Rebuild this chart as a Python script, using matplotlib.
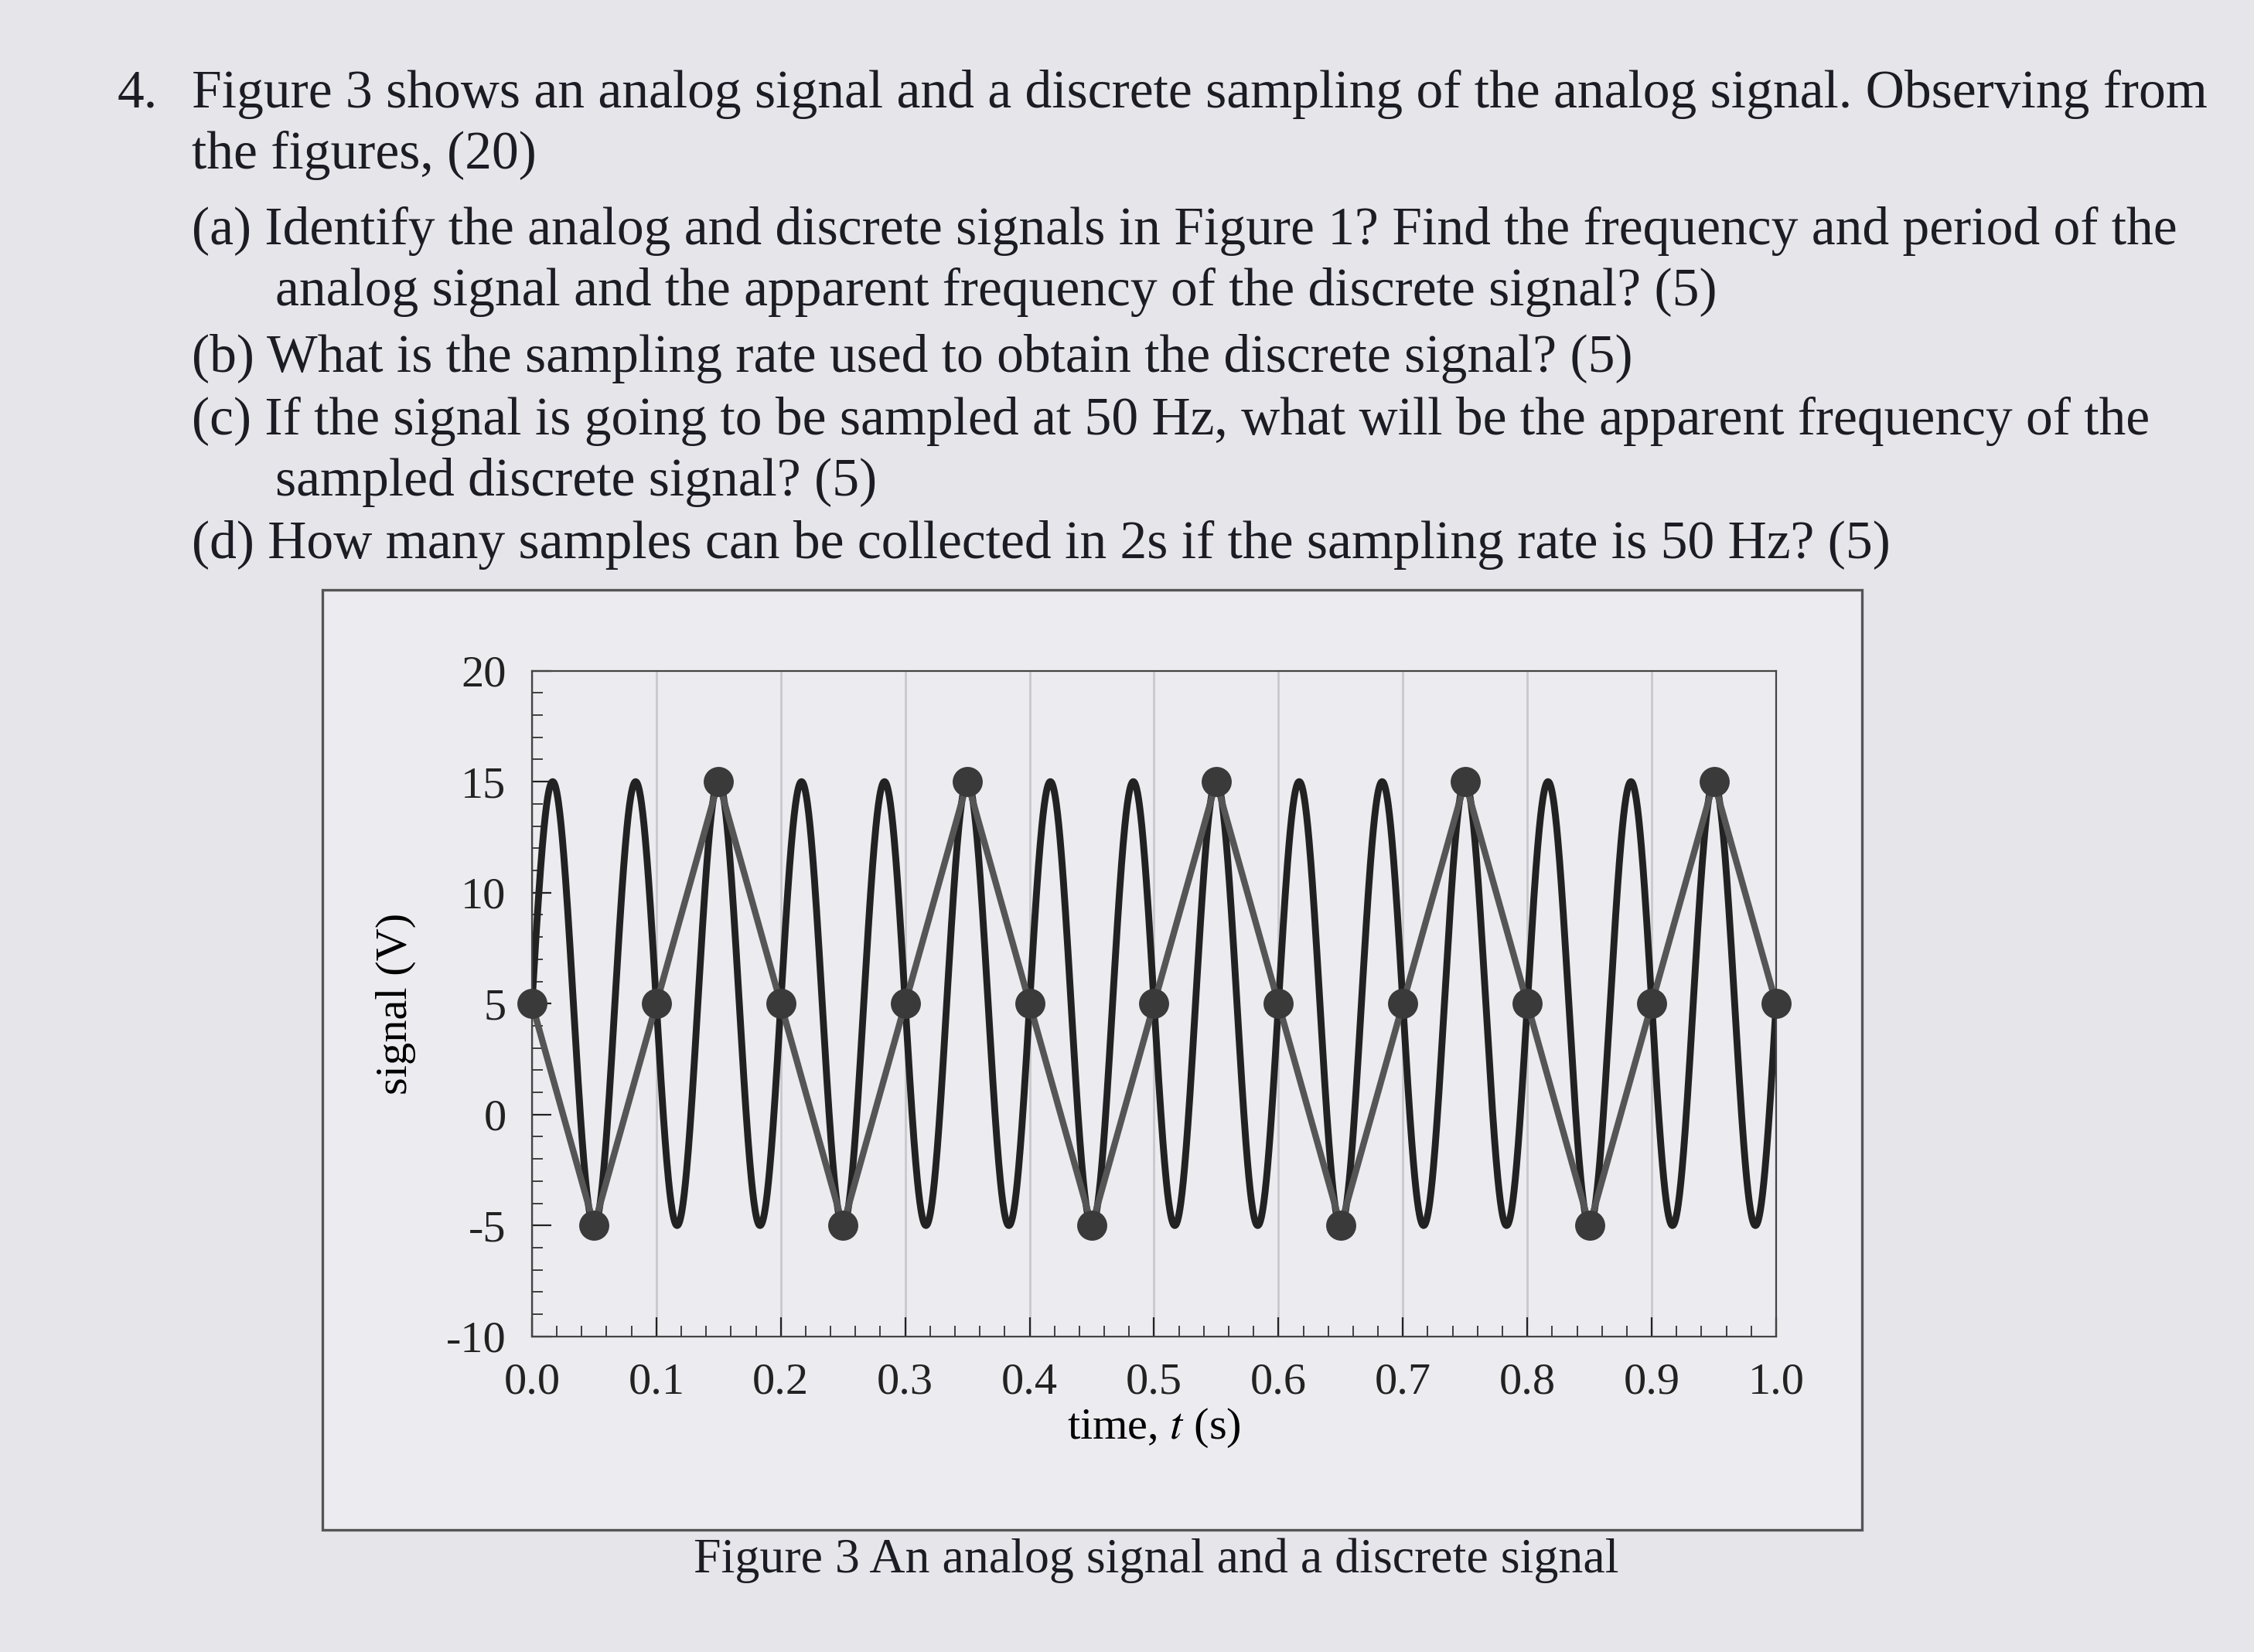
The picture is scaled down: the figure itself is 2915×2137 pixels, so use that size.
import numpy as np
import matplotlib.pyplot as plt
from matplotlib.patches import Rectangle

# analog: 5 + 10 sin(2*pi*15 t), sampled at 20 Hz
analog_freq = 15.0
offset = 5.0
amp = 10.0
sample_t = [0.00, 0.05, 0.10, 0.15, 0.20, 0.25, 0.30, 0.35, 0.40, 0.45, 0.50,
            0.55, 0.60, 0.65, 0.70, 0.75, 0.80, 0.85, 0.90, 0.95, 1.00]
sample_v = [5, -5, 5, 15, 5, -5, 5, 15, 5, -5, 5,
            15, 5, -5, 5, 15, 5, -5, 5, 15, 5]
x_ticks = [0.0, 0.1, 0.2, 0.3, 0.4, 0.5, 0.6, 0.7, 0.8, 0.9, 1.0]
y_ticks = [-10, -5, 0, 5, 10, 15, 20]

question = [
    (0.052, 0.935, "4."),
    (0.085, 0.935, "Figure 3 shows an analog signal and a discrete sampling of the analog signal. Observing from"),
    (0.085, 0.898, "the figures, (20)"),
    (0.085, 0.852, "(a) Identify the analog and discrete signals in Figure 1? Find the frequency and period of the"),
    (0.122, 0.815, "analog signal and the apparent frequency of the discrete signal? (5)"),
    (0.085, 0.775, "(b) What is the sampling rate used to obtain the discrete signal? (5)"),
    (0.085, 0.737, "(c) If the signal is going to be sampled at 50 Hz, what will be the apparent frequency of the"),
    (0.122, 0.700, "sampled discrete signal? (5)"),
    (0.085, 0.662, "(d) How many samples can be collected in 2s if the sampling rate is 50 Hz? (5)"),
]

plt.rcParams["font.family"] = ["Liberation Serif", "DejaVu Serif"]
plt.rcParams["axes.unicode_minus"] = False
plt.rcParams["mathtext.fontset"] = "stix"
paper = "#e6e5ea"
fig = plt.figure(figsize=(14.575, 10.685), dpi=200, facecolor=paper)

for x, y, s in question:
    fig.text(x, y, s, fontsize=25, color="#1c1c24", va="baseline")

fig.patches.append(Rectangle((0.143, 0.074), 0.683, 0.569, transform=fig.transFigure,
                             fill=True, facecolor="#ecebef", edgecolor="#555", lw=1.2,
                             zorder=-5))

ax = fig.add_axes([0.236, 0.191, 0.552, 0.403])
ax.set_facecolor("#ecebef")
t = np.linspace(0, 1, 3000)
ax.plot(t, offset + amp * np.sin(2 * np.pi * analog_freq * t), color="#222", lw=3.2, zorder=2)
ax.plot(sample_t, sample_v, color="#555", lw=3, marker="o", ms=13, mfc="#3a3a3a",
        mec="#3a3a3a", zorder=3, clip_on=False)
ax.set_xlim(0, 1.0)
ax.set_ylim(-10, 20)
ax.set_xticks(x_ticks)
ax.set_xticklabels([f"{v:.1f}" for v in x_ticks])
ax.set_yticks(y_ticks)
ax.set_xticks(np.arange(0, 1.001, 0.02), minor=True)
ax.set_yticks(np.arange(-10, 20.1, 1), minor=True)
ax.tick_params(direction="in", which="both", labelsize=21, colors="#222", pad=12)
ax.tick_params(which="major", length=9)
ax.tick_params(which="minor", length=5)
ax.grid(axis="x", color="#c9c8cc", lw=1)
for s in ax.spines.values():
    s.set_color("#444")
ax.set_xlabel("time, $t$ (s)", fontsize=21, labelpad=2)
ax.set_ylabel("signal (V)", fontsize=21, labelpad=14)

fig.text(0.513, 0.048, "Figure 3 An analog signal and a discrete signal", fontsize=23,
         ha="center", color="#1c1c24")

fig.savefig("out.png", dpi=200, facecolor=paper)
